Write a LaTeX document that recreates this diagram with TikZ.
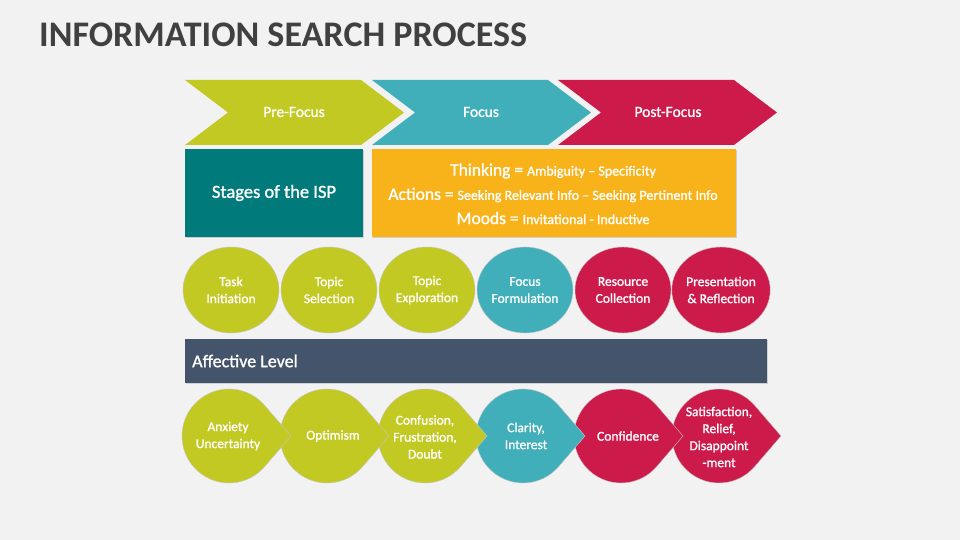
\documentclass[tikz,border=0pt]{standalone}
\usepackage{fontspec}
\setmainfont{Carlito}
\newfontfamily\semib[Ligatures=TeX,FakeBold=1.2]{Carlito}
\usetikzlibrary{shapes.geometric,shadows}
\definecolor{bg}{HTML}{F2F2F2}
\definecolor{lime}{HTML}{C2C923}
\definecolor{tealc}{HTML}{41AFB9}
\definecolor{crim}{HTML}{CC1B4B}
\definecolor{dteal}{HTML}{007A7A}
\definecolor{orng}{HTML}{F8B31B}
\definecolor{slate}{HTML}{44546A}
\definecolor{ttl}{HTML}{404040}
\newcommand\dropat[3]{%
  \path[fill=#3, draw=black!22, line width=0.4pt]
    (#1+62,#2) -- (#1+35.63,#2+30.65) arc[start angle=40.71, end angle=319.29, radius=47] -- cycle;}
\newcommand\chevat[2]{%
  \fill[#2] (#1,80) -- (#1+176,80) -- (#1+219,112.5) -- (#1+176,145) -- (#1,145) -- (#1+43,112.5) -- cycle;}
\tikzset{
  wtext/.style={text=white, inner sep=0pt, align=center, font=\semib\fontsize{13.5}{17}\selectfont},
  chevtext/.style={text=white, inner sep=0pt, font=\semib\fontsize{15.5}{18}\selectfont},
  stage/.style={ellipse, minimum width=96pt, minimum height=86pt, inner sep=0pt, draw=black!22, line width=0.4pt,
    text=white, align=center, font=\semib\fontsize{13.5}{17}\selectfont},
  box/.style={anchor=north west, inner sep=0pt, drop shadow={shadow xshift=1.2pt, shadow yshift=-1.2pt, opacity=0.3}},
  big/.style={text=white, inner sep=0pt, font=\semib\fontsize{17.5}{20}\selectfont},
}
\newcommand\sm[1]{{\fontsize{14}{16}\selectfont #1}}
\begin{document}
\begin{tikzpicture}[x=1pt,y=-1pt]
\fill[bg] (0,0) rectangle (960,540);
\useasboundingbox (0,0) rectangle (960,540);
% title
\node[anchor=west, inner sep=0pt, text=ttl, font=\bfseries\fontsize{36}{40}\selectfont] (title) at (39,34.5) {INFORMATION SEARCH PROCESS};
% chevrons
\chevat{558}{crim}
\chevat{372}{tealc}
\chevat{185}{lime}
\node[chevtext] (pre) at (294,112) {Pre-Focus};
\node[chevtext] (foc) at (481,112) {Focus};
\node[chevtext] (post) at (668,112) {Post-Focus};
% boxes
\node[box, fill=dteal, minimum width=178pt, minimum height=88pt] (isp) at (185,149) {};
\node[text=white, inner sep=0pt, font=\semib\fontsize{18.5}{22}\selectfont] (isptext) at (274,193) {Stages of the ISP};
\node[box, fill=orng, minimum width=364pt, minimum height=88pt] (dims) at (372,149) {};
\node[big] (think) at (553,171) {Thinking = \sm{Ambiguity – Specificity}};
\node[big] (act) at (553,195) {Actions = \sm{Seeking Relevant Info – Seeking Pertinent Info}};
\node[big] (mood) at (553,218) {Moods = \sm{Invitational - Inductive}};
% stages
\node[stage, fill=lime] (s1) at (231,290) {Task\\Initiation};
\node[stage, fill=lime] (s2) at (329,290) {Topic\\Selection};
\node[stage, fill=lime] (s3) at (427,290) {Topic\\Exploration};
\node[stage, fill=tealc] (s4) at (525,290) {Focus\\Formulation};
\node[stage, fill=crim] (s5) at (623,290) {Resource\\Collection};
\node[stage, fill=crim] (s6) at (721,290) {Presentation\\\& Reflection};
% affective bar
\node[box, fill=slate, minimum width=582pt, minimum height=44pt] (aff) at (185,339) {};
\node[anchor=west, text=white, inner sep=0pt, font=\semib\fontsize{18}{21}\selectfont] (afftext) at (192,361) {Affective Level};
% drops (drawn right to left so that each tip lies over the next)
\dropat{719}{436}{crim}
\dropat{621}{436}{crim}
\dropat{523}{436}{tealc}
\dropat{425}{436}{lime}
\dropat{327}{436}{lime}
\dropat{229}{436}{lime}
\node[wtext] (f1) at (228,436) {Anxiety\\Uncertainty};
\node[wtext] (f2) at (333,436) {Optimism};
\node[wtext] (f3) at (425,437) {Confusion,\\Frustration,\\Doubt};
\node[wtext] (f4) at (526,436) {Clarity,\\Interest};
\node[wtext] (f5) at (628,436) {Confidence};
\node[wtext] (f6) at (719,437) {Satisfaction,\\Relief,\\Disappoint\\-ment};
\end{tikzpicture}
\end{document}
